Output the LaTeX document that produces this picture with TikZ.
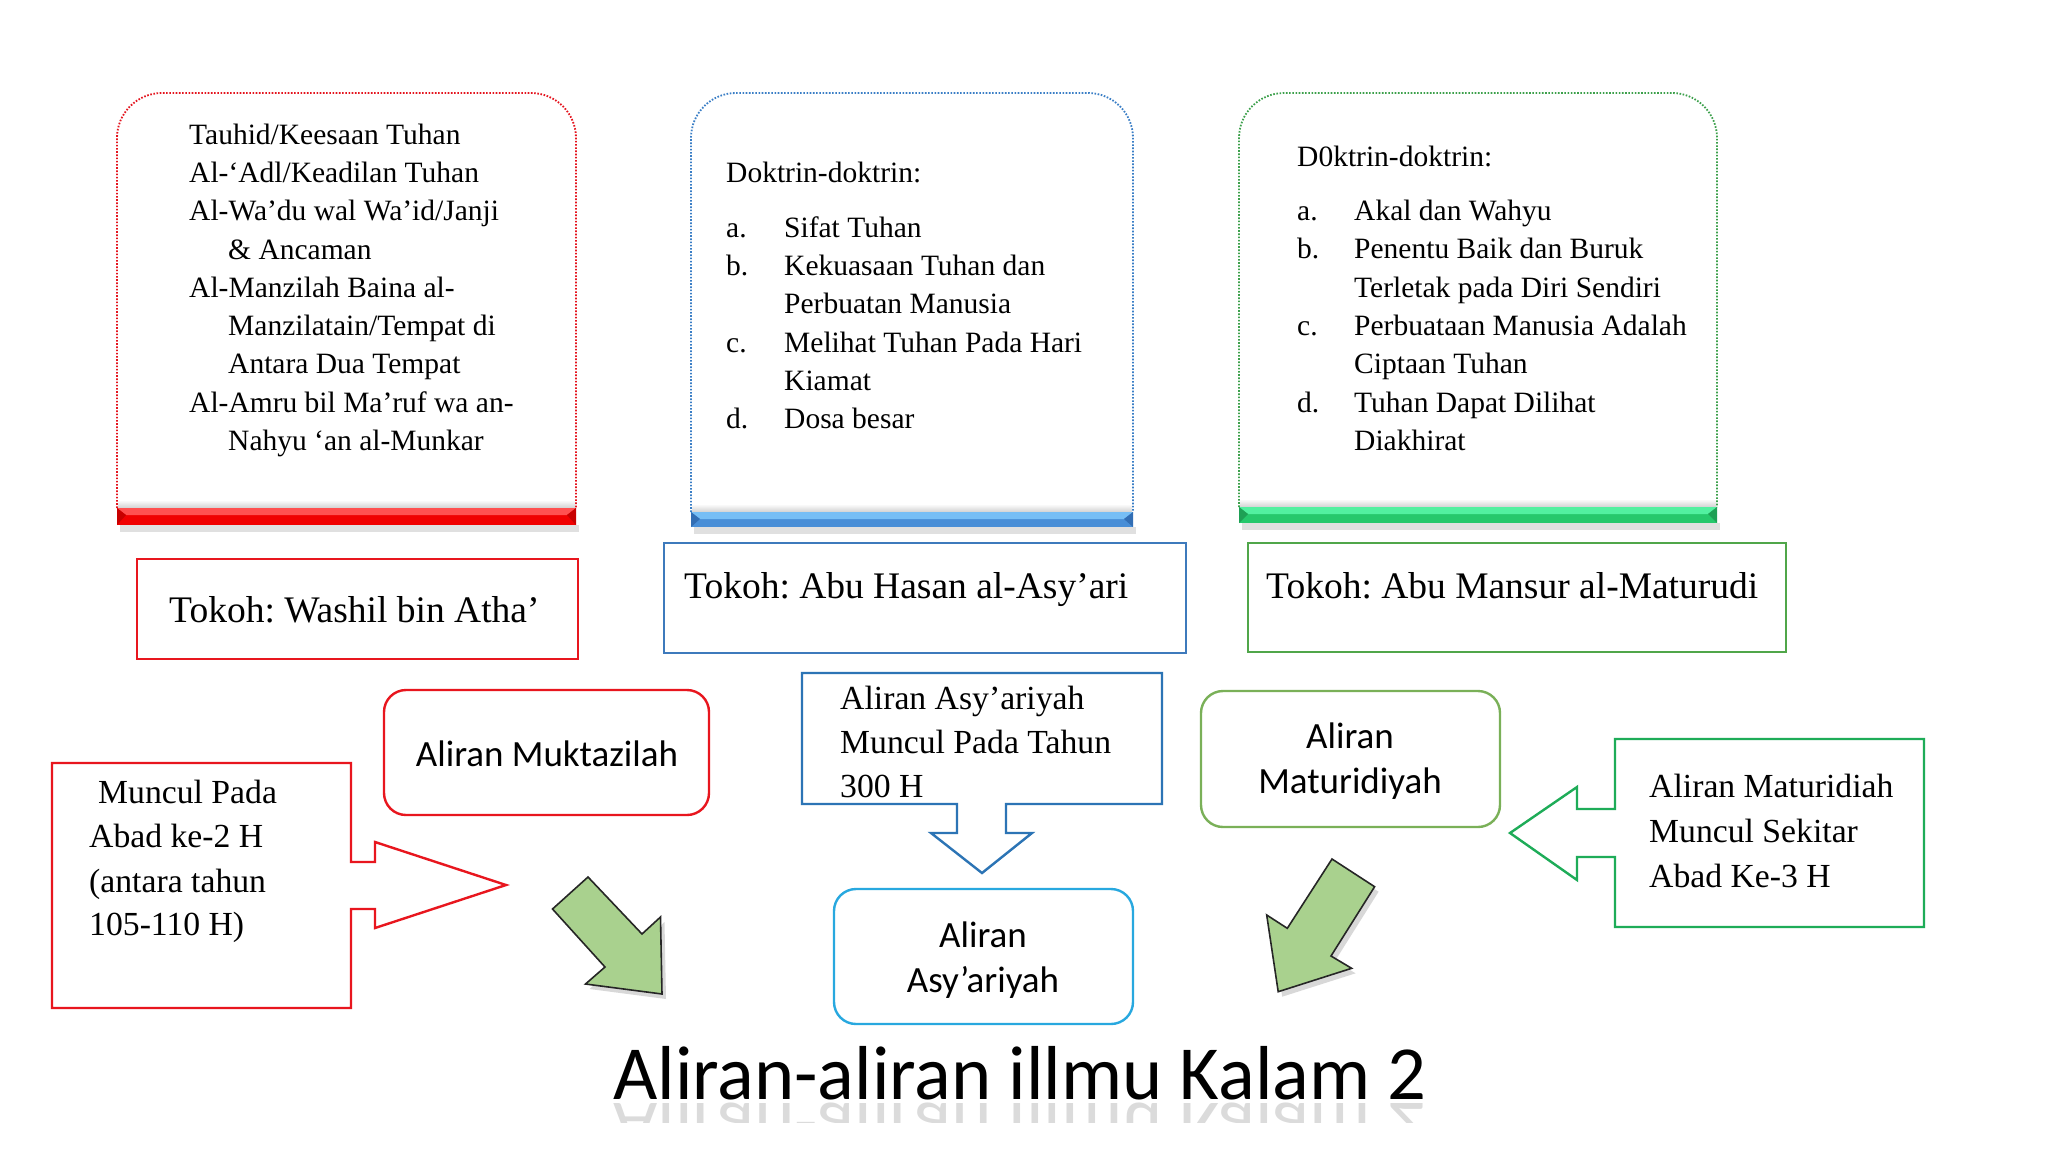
\documentclass[tikz,border=0pt]{standalone}
\usepackage{fontspec}
\setmainfont{Liberation Serif}
\newfontfamily\calfont{Carlito}
\usetikzlibrary{shadows}
\frenchspacing
\definecolor{rdot}{RGB}{228,20,30}
\definecolor{bdot}{RGB}{58,126,198}
\definecolor{gdot}{RGB}{60,160,75}
\definecolor{redline}{RGB}{232,22,30}
\definecolor{tblue}{RGB}{62,122,188}
\definecolor{tgreen}{RGB}{80,166,74}
\definecolor{cblue}{RGB}{44,116,181}
\definecolor{cyanbox}{RGB}{40,168,223}
\definecolor{olivebox}{RGB}{122,176,88}
\definecolor{cgreen}{RGB}{30,172,88}
\definecolor{arrowfill}{RGB}{169,209,142}
\definecolor{barred}{RGB}{240,0,0}
\definecolor{barredl}{RGB}{255,80,80}
\definecolor{barredd}{RGB}{200,0,0}
\definecolor{barblue}{RGB}{72,142,215}
\definecolor{barbluel}{RGB}{118,190,245}
\definecolor{barblued}{RGB}{50,110,180}
\definecolor{bargreen}{RGB}{38,200,108}
\definecolor{bargreenl}{RGB}{82,240,160}
\definecolor{bargreend}{RGB}{30,160,85}
\newcommand\drawbar[7]{%
  \fill[black,opacity=0.12] (#1+3,#4) rectangle (#2+3,#4+7);
  \fill[#5] (#1,#3) rectangle (#2,#4);
  \fill[#6] (#1,#3) -- (#2,#3) -- (#2-9,#3+7) -- (#1+9,#3+7) -- cycle;
  \fill[#7] (#1,#3) -- (#1+9,#3+7) -- (#1,#4) -- cycle;
  \fill[#7] (#2,#3) -- (#2-9,#3+7) -- (#2,#4) -- cycle;
}
\begin{document}
\begin{tikzpicture}[x=1pt,y=-1pt,
  txt/.style={anchor=base west, inner sep=0pt, font=\fontsize{29.5}{36}\selectfont},
  big/.style={anchor=base west, inner sep=0pt, font=\fontsize{37.5}{45}\selectfont},
  mid/.style={anchor=base west, inner sep=0pt, font=\fontsize{33.7}{44}\selectfont},
  cal/.style={anchor=base, inner sep=0pt, font=\calfont\fontsize{37}{45}\selectfont},
  topbox/.style={line width=1.8pt, dash pattern=on 1.6pt off 1.6pt, rounded corners=45pt},
  callout/.style={line width=2.4pt, line join=miter},
  rbox/.style={line width=2.4pt, rounded corners=22pt},
  greenarrow/.style={fill=arrowfill, draw=black!85, line width=1.6pt, line join=miter,
    drop shadow={opacity=0.3, shadow xshift=4pt, shadow yshift=-5pt}},
  titlefont/.style={anchor=base, inner sep=0pt, font=\calfont\fontsize{76.5}{80}\selectfont}
]
\useasboundingbox (0,0) rectangle (2048,1152);
\fill[white] (0,0) rectangle (2048,1152);

% ---------- top boxes ----------
\shade[top color=white, bottom color=black!18] (118,500) rectangle (575,508);
\shade[top color=white, bottom color=black!18] (692,504) rectangle (1132,512);
\shade[top color=white, bottom color=black!18] (1240,499) rectangle (1716,507);
\draw[topbox, rdot] (117,508) -- (117,93) -- (576,93) -- (576,508);
\draw[topbox, bdot] (691,512) -- (691,93) -- (1133,93) -- (1133,512);
\draw[topbox, gdot] (1239,507) -- (1239,93) -- (1717,93) -- (1717,507);
\drawbar{117}{576}{508}{525}{barred}{barredl}{barredd}
\drawbar{691}{1133}{512}{527}{barblue}{barbluel}{barblued}
\drawbar{1239}{1717}{507}{523}{bargreen}{bargreenl}{bargreend}

% red box text
\node[txt] (r1) at (189,144) {Tauhid/Keesaan Tuhan};
\node[txt] (r2) at (189,182) {Al-‘Adl/Keadilan Tuhan};
\node[txt] (r3) at (189,220) {Al-Wa’du wal Wa’id/Janji};
\node[txt] (r4) at (228,259) {\& Ancaman};
\node[txt] (r5) at (189,297) {Al-Manzilah Baina al-};
\node[txt] (r6) at (228,335) {Manzilatain/Tempat di};
\node[txt] (r7) at (228,373) {Antara Dua Tempat};
\node[txt] (r8) at (189,412) {Al-Amru bil Ma’ruf wa an-};
\node[txt] (r9) at (228,450) {Nahyu ‘an al-Munkar};

% blue box text
\node[txt] (b0) at (726,182) {Doktrin-doktrin:};
\node[txt] (ba) at (726,237) {a.};
\node[txt] (ba1) at (784,237) {Sifat Tuhan};
\node[txt] (bb) at (726,275) {b.};
\node[txt] (bb1) at (784,275) {Kekuasaan Tuhan dan};
\node[txt] (bb2) at (784,313) {Perbuatan Manusia};
\node[txt] (bc) at (726,352) {c.};
\node[txt] (bc1) at (784,352) {Melihat Tuhan Pada Hari};
\node[txt] (bc2) at (784,390) {Kiamat};
\node[txt] (bd) at (726,428) {d.};
\node[txt] (bd1) at (784,428) {Dosa besar};

% green box text
\node[txt] (g0) at (1297,166) {D0ktrin-doktrin:};
\node[txt] (ga) at (1297,220) {a.};
\node[txt] (ga1) at (1354,220) {Akal dan Wahyu};
\node[txt] (gb) at (1297,258) {b.};
\node[txt] (gb1) at (1354,258) {Penentu Baik dan Buruk};
\node[txt] (gb2) at (1354,297) {Terletak pada Diri Sendiri};
\node[txt] (gc) at (1297,335) {c.};
\node[txt] (gc1) at (1354,335) {Perbuataan Manusia Adalah};
\node[txt] (gc2) at (1354,373) {Ciptaan Tuhan};
\node[txt] (gd) at (1297,412) {d.};
\node[txt] (gd1) at (1354,412) {Tuhan Dapat Dilihat};
\node[txt] (gd2) at (1354,450) {Diakhirat};

% ---------- Tokoh boxes ----------
\draw[redline, line width=2.4pt] (137,559) rectangle (578,659);
\node[big] (tk1) at (169,622) {Tokoh: Washil bin Atha’};
\draw[tblue, line width=2.4pt] (664,543) rectangle (1186,653);
\node[big] (tk2) at (684,598) {Tokoh: Abu Hasan al-Asy’ari};
\draw[tgreen, line width=2.4pt] (1248,543) rectangle (1786,652);
\node[big] (tk3) at (1266,598) {Tokoh: Abu Mansur al-Maturudi};

% ---------- rounded aliran boxes ----------
\draw[rbox, redline] (384,690) rectangle (709,815);
\node[cal] (muk) at (547,766) {Aliran Muktazilah};
\draw[rbox, cyanbox] (834,889) rectangle (1133,1024);
\node[cal] (asy1) at (983,947) {Aliran};
\node[cal] (asy2) at (983,992) {Asy’ariyah};
\draw[rbox, olivebox] (1201,691) rectangle (1500,827);
\node[cal] (mat1) at (1350,748) {Aliran};
\node[cal] (mat2) at (1350,793) {Maturidiyah};

% ---------- callouts ----------
\draw[callout, redline] (52,763) -- (351,763) -- (351,862) -- (375,862) -- (375,842)
  -- (506,885) -- (375,928) -- (375,909) -- (351,909) -- (351,1008) -- (52,1008) -- cycle;
\node[mid] (mc1) at (98,803) {Muncul Pada};
\node[mid] (mc2) at (89,847) {Abad ke-2 H};
\node[mid] (mc3) at (89,892) {(antara tahun};
\node[mid] (mc4) at (89,935) {105-110 H)};

\draw[callout, cblue] (802,673) -- (1162,673) -- (1162,804) -- (1006,804) -- (1006,833)
  -- (1032,833) -- (982,873) -- (931,833) -- (957,833) -- (957,804) -- (802,804) -- cycle;
\node[mid] (ac1) at (840,709) {Aliran Asy’ariyah};
\node[mid] (ac2) at (840,753) {Muncul Pada Tahun};
\node[mid] (ac3) at (840,797) {300 H};

\draw[callout, cgreen] (1615,739) -- (1924,739) -- (1924,927) -- (1615,927) -- (1615,857)
  -- (1577,857) -- (1577,880) -- (1510,833) -- (1577,787) -- (1577,809) -- (1615,809) -- cycle;
\node[mid] (gcall1) at (1649,797) {Aliran Maturidiah};
\node[mid] (gcall2) at (1649,842) {Muncul Sekitar};
\node[mid] (gcall3) at (1649,887) {Abad Ke-3 H};

% ---------- green block arrows ----------
\filldraw[greenarrow] (588,877) -- (552.5,909) -- (605,967) -- (585.5,984) -- (662,994)
  -- (660.5,917) -- (642,934) -- cycle;
\filldraw[greenarrow] (1332,859) -- (1374.6,886.7) -- (1331,956) -- (1351.6,968.3)
  -- (1278.2,991.7) -- (1266.7,915) -- (1287.3,928.3) -- cycle;

% ---------- title ----------
\node[titlefont] (title) at (1020,1099) {Aliran-aliran illmu Kalam 2};
\begin{scope}
  \clip (560,1101) rectangle (1480,1122);
  \node[titlefont, yscale=-1, opacity=0.14] (titlerefl) at (1020,1103) {Aliran-aliran illmu Kalam 2};
\end{scope}
\end{tikzpicture}
\end{document}
